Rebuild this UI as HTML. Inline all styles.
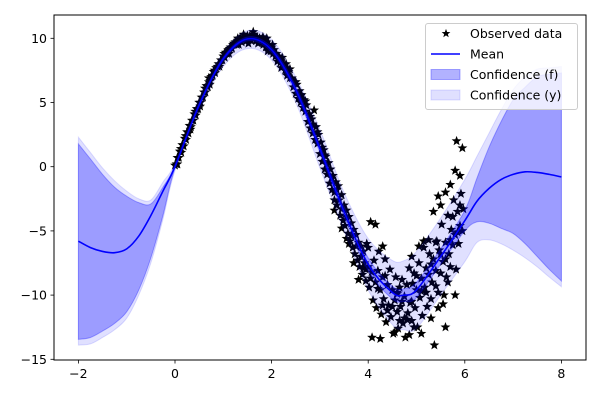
<!DOCTYPE html>
<html><head><meta charset="utf-8"><style>
html,body{margin:0;padding:0;background:#fff;}
svg{display:block;font-family:"DejaVu Sans","Liberation Sans",sans-serif;}
</style></head><body>
<svg id="chart" width="600" height="400" viewBox="0 0 600 400">
<defs><clipPath id="clip"><rect x="54" y="15" width="532" height="345"/></clipPath></defs>
<rect x="0" y="0" width="600" height="400" fill="#fff"/>
<g id="plot" clip-path="url(#clip)"></g>
<rect x="54" y="15" width="532" height="345" fill="none" stroke="#000" stroke-width="1"/>
<g id="axes"></g>
<g id="legend"></g>
</svg>
<script>
const gridX = [-2,-1.75,-1.5,-1.25,-1,-0.75,-0.5,-0.25,0,0.5,1,1.5,2,2.5,3,3.5,4,4.5,4.75,5,5.5,6,6.25,6.5,6.75,7,7.25,7.5,7.75,8];
const meanY = [-5.8,-6.3,-6.6,-6.7,-6.4,-5.4,-3.8,-1.9,0,4.8,8.4,9.95,9.1,6.0,1.4,-3.5,-7.6,-9.8,-10.0,-9.6,-7.0,-4.2,-2.7,-1.7,-1.0,-0.6,-0.4,-0.45,-0.6,-0.8];
const fLower = [-13.45,-13.3,-12.8,-12.2,-11.3,-9.6,-7.1,-3.8,-0.1,4.65,8.25,9.8,8.9,5.7,1.1,-3.9,-8.1,-10.3,-10.5,-10.2,-7.6,-5.0,-4.3,-4.4,-4.8,-5.2,-6.0,-7.0,-8.0,-8.9];
const fUpper = [1.77,0.6,-0.6,-1.6,-2.3,-2.8,-2.9,-1.6,0.1,4.95,8.55,10.1,9.3,6.3,1.7,-3.1,-7.1,-9.3,-9.5,-9.0,-6.4,-3.4,-0.9,1.5,3.5,5.2,6.2,7.0,7.2,7.3];
const yLower = [-13.9,-13.8,-13.3,-12.7,-11.8,-10.0,-7.5,-4.1,-0.3,4.3,7.8,9.2,8.3,5.0,-0.1,-5.0,-9.6,-12.3,-12.7,-12.6,-10.0,-7.4,-5.9,-5.7,-6.0,-6.5,-7.1,-7.8,-8.6,-9.35];
const yUpper = [2.3,1.1,-0.1,-1.1,-1.9,-2.5,-2.6,-1.2,0.3,5.3,8.9,10.6,9.9,7.0,2.9,-2.0,-5.6,-7.3,-7.3,-6.6,-4.0,-1.0,0.8,2.6,4.4,6.0,7.0,7.6,7.7,7.8];
const obsX = [0,0.03,0.05,0.08,0.1,0.13,0.15,0.18,0.2,0.23,0.25,0.28,0.3,0.33,0.35,0.38,0.4,0.43,0.45,0.48,0.5,0.53,0.55,0.58,0.6,0.63,0.65,0.68,0.7,0.73,0.75,0.78,0.8,0.83,0.85,0.88,0.9,0.93,0.95,0.98,1.0,1.03,1.05,1.08,1.1,1.13,1.15,1.18,1.2,1.23,1.25,1.28,1.3,1.33,1.35,1.38,1.4,1.43,1.45,1.48,1.5,1.53,1.55,1.58,1.6,1.63,1.65,1.68,1.7,1.73,1.75,1.78,1.8,1.83,1.85,1.88,1.9,1.93,1.95,1.98,2.0,2.03,2.05,2.08,2.1,2.13,2.15,2.18,2.2,2.23,2.25,2.28,2.3,2.33,2.35,2.38,
2.42,2.45,2.48,2.5,2.52,2.55,2.58,2.6,2.62,2.65,2.67,2.7,2.72,2.75,2.78,2.8,2.83,2.85,2.88,2.9,2.92,2.95,2.97,3.0,3.02,3.05,3.08,3.1,3.12,3.15,3.18,3.2,3.22,3.25,3.27,3.3,3.33,3.35,3.38,3.4,3.42,3.45,3.48,3.5,3.52,3.55,3.58,3.6,3.62,3.65,3.68,3.7,3.72,3.75,3.78,3.8,3.82,3.85,3.88,3.9,3.92,3.95,3.97,4.0,4.02,4.05,4.07,4.1,4.12,4.15,4.17,4.2,4.22,4.25,4.27,4.3,4.32,4.35,4.37,4.4,4.42,4.45,4.47,4.5,4.52,4.55,4.57,4.6,4.62,4.65,4.67,4.7,4.72,4.75,4.77,4.8,4.82,4.85,4.87,4.9,4.92,4.95,4.97,5.0,5.02,5.05,5.07,5.1,5.12,5.15,5.17,5.2,5.22,5.25,5.27,5.3,5.32,5.35,5.37,5.4,5.42,5.45,5.47,5.5,5.52,5.55,5.57,5.6,5.62,5.65,5.67,5.7,5.72,5.75,5.77,5.8,5.82,5.85,5.87,5.9,5.92,5.95,5.97,5.83,5.95,5.6,4.25,4.55,4.3,4.15,5.3,4.9,5.05,5.15,5.45,5.5,5.35,5.6,5.7,5.8,5.9,5.1,4.85,4.08,5.8,5.55,4.0,4.6,5.25,5.4,3.6,3.3,
0.05,0.12,0.22,0.32,0.42,0.52,0.62,0.72,0.82,0.92,1.02,1.12,1.22,1.32,1.42,1.52,1.62,1.72,1.82,1.92,2.02,2.12,2.22,2.32,2.38,0.7,1.3,1.9,2.2,2.3,
2.5,2.6,2.7,2.8,2.85,2.95,3.05,3.1,3.25,3.35,3.45,3.55,3.65,3.75,3.85,3.9,3.3,3.45,3.15,3.55,3.7,3.8,3.95,
4.05,4.2,4.3,4.4,4.35,4.5,4.6,4.65,4.7,4.8,4.9,5.0,5.1,5.2,5.3,5.4,5.5,5.6,5.7,5.75,5.85,5.9,5.65,5.45,4.95,4.75];
const obsY = [0.1,0.2,0.7,0.7,1.2,1.1,1.7,1.6,2.2,2.1,2.7,2.6,3.2,3.1,3.6,3.6,4.1,4.0,4.5,4.5,5.0,5.0,5.4,5.4,5.8,5.8,6.3,6.2,6.6,6.7,7.0,7.1,7.4,7.3,7.7,7.8,8.0,8.0,8.3,8.3,8.6,8.5,8.9,8.8,9.1,9.2,9.3,9.2,9.5,9.6,9.7,9.5,9.8,9.9,10.0,9.7,10.1,9.9,10.1,9.8,10.2,9.9,10.2,9.8,10.2,10.3,10.1,9.8,10.1,9.7,10.0,9.9,9.9,9.5,9.8,9.3,9.7,9.2,9.5,9.0,9.3,8.8,9.1,8.6,8.8,8.4,8.6,8.1,8.3,7.9,8.0,7.5,7.7,7.2,7.4,6.9,
6.9,6.2,6.6,5.7,6.4,5.3,5.9,5.0,5.6,4.6,5.2,4.3,4.8,3.5,4.1,3.0,3.7,2.6,4.4,2.1,3.1,1.8,2.5,1.0,1.9,0.4,1.3,-0.2,0.8,-0.6,0.3,-1.3,-0.2,-1.8,-0.7,-2.0,-1.2,-3.0,-1.5,-2.6,-3.8,-2.2,-4.2,-3.0,-4.6,-3.4,-5.2,-3.9,-5.8,-4.4,-6.3,-4.9,-6.8,-5.3,-7.3,-5.9,-7.8,-6.2,-8.4,-6.6,-7.5,-8.9,-6.0,-7.8,-9.4,-4.3,-8.2,-10.4,-7.3,-9.0,-11.0,-8.1,-6.6,-9.6,-11.5,-8.6,-10.3,-7.2,-12.1,-9.2,-10.8,-8.0,-11.7,-9.6,-13.0,-10.4,-8.6,-11.3,-12.6,-9.4,-10.9,-8.8,-12.2,-10.1,-13.3,-9.2,-11.4,-7.9,-10.6,-12.0,-9.1,-8.3,-11.0,-9.6,-12.5,-7.5,-10.2,-8.7,-11.6,-6.3,-9.4,-7.9,-10.9,-8.4,-6.8,-11.8,-9.0,-7.2,-13.9,-8.1,-5.8,-9.8,-6.5,-8.3,-4.5,-7.4,-10.0,-5.9,-8.6,-3.8,-6.8,-7.8,-4.9,-6.1,-2.6,-5.3,-8.0,-3.5,-6.0,-4.6,-2.1,-5.0,-3.3,2.0,1.45,-12.5,-13.4,-12.9,-6.2,-4.5,-10.3,-7.0,-6.2,-5.8,-2.3,-3.0,-3.5,-2.0,-1.4,-0.3,-0.7,-13.0,-13.1,-13.3,-10.0,-10.7,-6.3,-9.9,-5.7,-5.9,-6.0,-2.6,
0.2,1.4,2.4,2.9,4.3,4.7,6.1,6.4,7.5,7.8,8.8,8.8,9.6,9.5,10.3,9.6,10.5,9.6,10.1,9.0,9.5,8.2,8.5,7.1,7.6,6.9,10.0,10.0,7.7,8.0,
6.6,5.5,5.1,3.9,3.3,2.7,1.5,0.9,-0.9,-1.8,-3.3,-3.9,-5.4,-6.2,-7.0,-7.9,-3.4,-4.8,0.2,-5.6,-7.5,-8.8,-8.0,
-8.7,-9.5,-10.8,-11.2,-8.5,-10.9,-9.8,-12.0,-10.5,-11.9,-10.5,-8.5,-9.7,-9.8,-7.6,-9.3,-6.8,-7.2,-5.7,-3.9,-5.1,-3.0,-9.0,-11.0,-12.5,-11.8];
const xTicks = [-2,0,2,4,6,8];
const yTicks = [-15,-10,-5,0,5,10];

const NS = "http://www.w3.org/2000/svg";
const X = v => 175 + v * 48.3;
const Y = v => 166.7 - v * 12.84;
function mk(tag, attrs, parent){ const e = document.createElementNS(NS, tag); for (const k in attrs) e.setAttribute(k, attrs[k]); parent.appendChild(e); return e; }
function starPts(cx, cy, r){ let p=[]; for(let i=0;i<10;i++){ const a=-Math.PI/2+i*Math.PI/5; const rr=i%2?r*0.42:r; p.push((cx+rr*Math.cos(a)).toFixed(2)+","+(cy+rr*Math.sin(a)).toFixed(2)); } return p.join(" "); }
const plot = document.getElementById('plot');
const axes = document.getElementById('axes');
const legend = document.getElementById('legend');

const gS = mk('g', {}, plot);


for (let i = 0; i < obsX.length; i++) {
  const s = mk('polygon', {points: starPts(X(obsX[i]), Y(obsY[i]), 5.2), fill: '#000'}, gS);
  
  
}
function segs(P){
  let d = '';
  for (let i=0;i<P.length-1;i++){
    const p0=P[Math.max(0,i-1)],p1=P[i],p2=P[i+1],p3=P[Math.min(P.length-1,i+2)];
    const c1=[p1[0]+(p2[0]-p0[0])/6,p1[1]+(p2[1]-p0[1])/6], c2=[p2[0]-(p3[0]-p1[0])/6,p2[1]-(p3[1]-p1[1])/6];
    d+=' C'+c1.map(v=>v.toFixed(2)).join(',')+' '+c2.map(v=>v.toFixed(2)).join(',')+' '+p2[0].toFixed(2)+','+p2[1].toFixed(2);
  }
  return d;
}
function smooth(xs, ys){
  const P = xs.map((x,i)=>[X(x),Y(ys[i])]);
  return 'M'+P[0][0].toFixed(2)+','+P[0][1].toFixed(2)+segs(P);
}
function band(lo, hi, color, name){
  const H = gridX.map((x,i)=>[X(x),Y(hi[i])]);
  const L = gridX.map((x,i)=>[X(x),Y(lo[i])]).reverse();
  const d = 'M'+H[0][0].toFixed(2)+','+H[0][1].toFixed(2)+segs(H)+' L'+L[0][0].toFixed(2)+','+L[0][1].toFixed(2)+segs(L)+' Z';
  const p = mk('path', {d: d, fill: color, stroke: color, 'stroke-width': 1}, plot);
  
  
}
band(yLower, yUpper, 'rgba(0,0,255,0.12)', 'confidence-y-band');
band(fLower, fUpper, 'rgba(0,0,255,0.3)', 'confidence-f-band');
const ml = mk('path', {d: smooth(gridX, meanY), fill: 'none', stroke: '#0000ff', 'stroke-width': 1.6}, plot);



xTicks.forEach(t => {
  const l = mk('line', {x1: X(t), x2: X(t), y1: 360, y2: 363.5, stroke: '#000', 'stroke-width': 0.8}, axes);
  
  
  const tx = mk('text', {x: X(t), y: 378, 'font-size': 12.5, 'text-anchor': 'middle', fill: '#000'}, axes);
  tx.textContent = t < 0 ? '\u2212' + (-t) : String(t);
  
  
});
yTicks.forEach(t => {
  const l = mk('line', {x1: 50.5, x2: 54, y1: Y(t), y2: Y(t), stroke: '#000', 'stroke-width': 0.8}, axes);
  
  
  const tx = mk('text', {x: 47, y: Y(t) + 4.5, 'font-size': 12.5, 'text-anchor': 'end', fill: '#000'}, axes);
  tx.textContent = t < 0 ? '\u2212' + (-t) : String(t);
  
  
});

const lb = mk('rect', {x: 425.5, y: 23.5, width: 152, height: 86, rx: 2.5, fill: 'rgba(255,255,255,0.8)', stroke: '#ccc', 'stroke-width': 1}, legend);


const labels = ['Observed data', 'Mean', 'Confidence (f)', 'Confidence (y)'];
labels.forEach((lab, i) => {
  const cy = 33.5 + i * 20.5;
  const g = mk('g', {}, legend);
  
  
  if (i === 0) mk('polygon', {points: starPts(446, cy, 4.6), fill: '#000'}, g);
  if (i === 1) mk('line', {x1: 431, x2: 460, y1: cy, y2: cy, stroke: '#0000ff', 'stroke-width': 1.6}, g);
  if (i === 2) mk('rect', {x: 431, y: cy - 5, width: 29, height: 10, fill: 'rgba(0,0,255,0.3)', stroke: 'rgba(0,0,255,0.3)'}, g);
  if (i === 3) mk('rect', {x: 431, y: cy - 5, width: 29, height: 10, fill: 'rgba(0,0,255,0.12)', stroke: 'rgba(0,0,255,0.12)'}, g);
  const t = mk('text', {x: 470, y: cy + 4.5, 'font-size': 12.5, fill: '#000'}, g);
  t.textContent = lab;
});
</script>
</body></html>
